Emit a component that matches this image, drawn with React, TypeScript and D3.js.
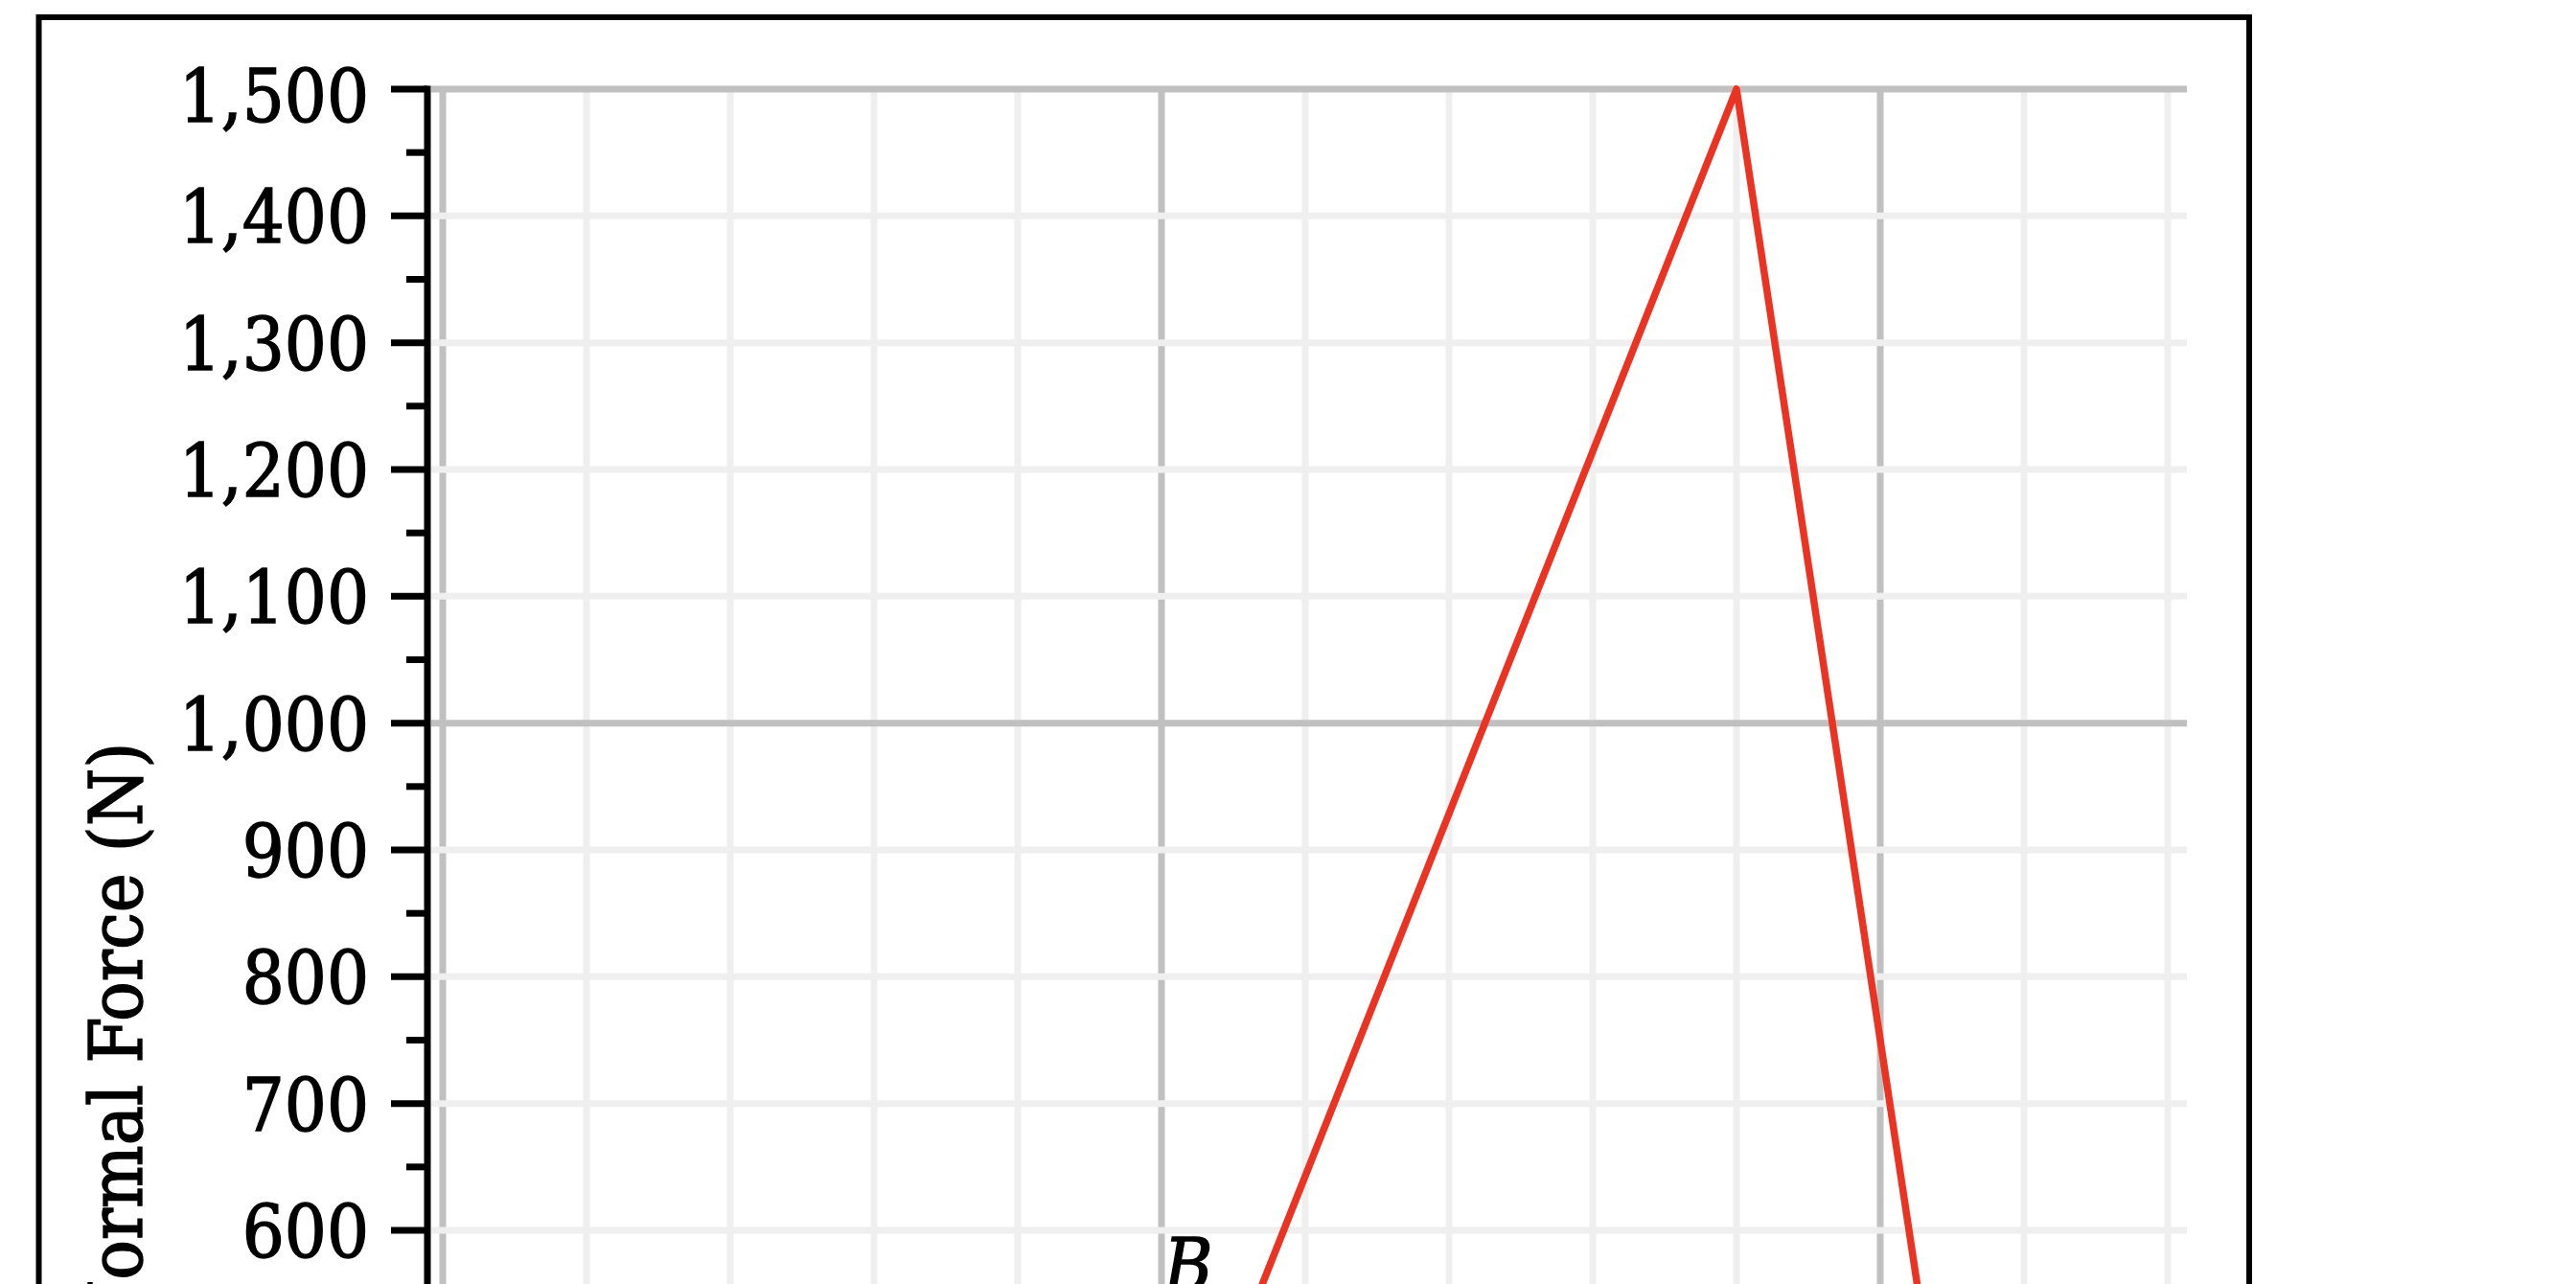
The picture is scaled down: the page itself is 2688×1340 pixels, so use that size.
import React from "react";
import * as d3 from "d3";

// ---- data ----
const pointLabels = ["B", "", ""];
const timeValues = [5.5, 9, 11];
const forceValues = [500, 1500, 0];

const yAxisTitle = "Normal Force (N)";
const xDomain = [0, 12];
const yDomain = [0, 1500];
const yLabelStep = 100;
const yMinorTickStep = 50;
const yMajorGridStep = 500;
const xMajorGridStep = 5;

const FONT = "'DejaVu Serif Condensed', 'DejaVu Serif', serif";
const textStyle = { fontStretch: "condensed", stroke: "#000", strokeWidth: 1.4 } as React.CSSProperties;

export default function App() {
  const W = 2688;
  const H = 1340;
  const plotLeft = 450;
  const plotRight = 2282;
  const x = d3.scaleLinear().domain(xDomain).range([462, 2262]);
  const y = d3.scaleLinear().domain(yDomain).range([2078, 93]);

  const xGrid = d3.range(xDomain[0], xDomain[1] + 1, 1);
  const yGrid = d3.range(yDomain[0], yDomain[1] + 1, yLabelStep);
  const yMinor = d3.range(yDomain[0], yDomain[1] + 1, yMinorTickStep);
  const fmt = d3.format(",");

  const pts = timeValues.map((t, i) => ({ t, f: forceValues[i], label: pointLabels[i] }));
  const line = d3
    .line<{ t: number; f: number }>()
    .x((d) => x(d.t))
    .y((d) => y(d.f));

  const axisX = 446;
  const major = "#c0c0c0";
  const minor = "#efefef";
  const gw = 7;

  return (
    <>
      <style>{`html,body{margin:0;padding:0;overflow:hidden;background:#fff}`}</style>
      <svg width={W} height={H} style={{ display: "block" }}>
        {/* vertical grid */}
        {xGrid.map((v) => (
          <line
            key={"vx" + v}
            x1={x(v)}
            x2={x(v)}
            y1={y(yDomain[1])}
            y2={y(yDomain[0])}
            stroke={v % xMajorGridStep === 0 ? major : minor}
            strokeWidth={gw}
          />
        ))}
        {/* horizontal grid: minor then major */}
        {yGrid
          .filter((v) => v % yMajorGridStep !== 0)
          .map((v) => (
            <line key={"hm" + v} x1={plotLeft} x2={plotRight} y1={y(v)} y2={y(v)} stroke={minor} strokeWidth={gw} />
          ))}
        {yGrid
          .filter((v) => v % yMajorGridStep === 0)
          .map((v) => (
            <line key={"hM" + v} x1={plotLeft} x2={plotRight} y1={y(v)} y2={y(v)} stroke={major} strokeWidth={gw} />
          ))}

        {/* data line */}
        <path
          d={line(pts) || ""}
          fill="none"
          stroke="#eb3323"
          strokeWidth={7.5}
          strokeLinejoin="round"
        />
        {pts
          .filter((p) => p.label)
          .map((p) => (
            <text
              key={"pl" + p.label}
              x={x(p.t) - 47}
              y={y(p.f) - 69}
              textAnchor="middle"
              fontFamily={FONT}
              fontStyle="italic"
              fontSize={77}
              style={textStyle}
            >
              {p.label}
            </text>
          ))}

        {/* y axis */}
        <line x1={axisX} x2={axisX} y1={y(yDomain[1]) - 3.5} y2={y(yDomain[0]) + 3.5} stroke="#000" strokeWidth={7} />
        {yMinor.map((v) => (
          <line
            key={"t" + v}
            x1={axisX}
            x2={v % yLabelStep === 0 ? 408 : 424}
            y1={y(v)}
            y2={y(v)}
            stroke="#000"
            strokeWidth={7}
          />
        ))}
        {yGrid.map((v) => (
          <text
            key={"yl" + v}
            x={385}
            y={Math.max(y(v) + 28, 127)}
            textAnchor="end"
            fontFamily={FONT}
            fontSize={77}
            style={textStyle}
          >
            {fmt(v)}
          </text>
        ))}
        <text
          transform={`translate(148,${(y(yDomain[0]) + y(yDomain[1])) / 2}) rotate(-90)`}
          textAnchor="middle"
          fontFamily={FONT}
          fontSize={77}
          style={textStyle}
        >
          {yAxisTitle}
        </text>

        {/* frame */}
        <rect x={40.5} y={18} width={2306.5} height={2200} fill="none" stroke="#000" strokeWidth={6} />
      </svg>
    </>
  );
}
